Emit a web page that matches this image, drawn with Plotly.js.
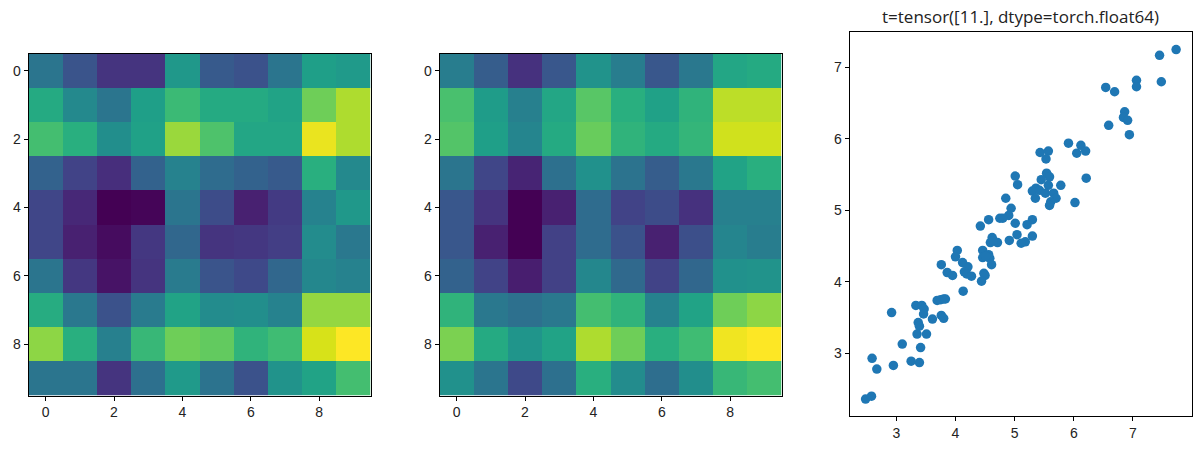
<!DOCTYPE html>
<html>
<head>
<meta charset="utf-8">
<script src="https://cdn.plot.ly/plotly-3.0.1.min.js"></script>
<style>html,body{margin:0;padding:0;background:#fff}#chart{width:1200px;height:449px}</style>
</head>
<body>
<div id="chart"></div>
<script>
const cells = [0,1,2,3,4,5,6,7,8,9];
const leftValues = [
[0.39,0.26,0.15,0.15,0.53,0.28,0.25,0.39,0.56,0.54],
[0.61,0.47,0.39,0.56,0.68,0.61,0.61,0.58,0.78,0.88],
[0.70,0.63,0.49,0.57,0.85,0.72,0.59,0.59,0.97,0.88],
[0.31,0.20,0.13,0.31,0.44,0.35,0.31,0.28,0.63,0.47],
[0.21,0.11,0.00,0.01,0.39,0.23,0.09,0.17,0.44,0.53],
[0.21,0.09,0.03,0.16,0.33,0.15,0.16,0.18,0.48,0.40],
[0.39,0.16,0.05,0.15,0.41,0.26,0.22,0.33,0.46,0.44],
[0.62,0.40,0.25,0.41,0.58,0.48,0.49,0.44,0.84,0.84],
[0.83,0.63,0.43,0.67,0.78,0.76,0.65,0.69,0.94,1.00],
[0.39,0.39,0.15,0.37,0.54,0.38,0.25,0.51,0.58,0.70]];
const rightValues = [
[0.42,0.29,0.14,0.27,0.51,0.42,0.27,0.40,0.59,0.61],
[0.71,0.55,0.43,0.59,0.74,0.63,0.57,0.65,0.90,0.90],
[0.73,0.56,0.45,0.61,0.77,0.65,0.61,0.66,0.93,0.93],
[0.39,0.21,0.10,0.37,0.50,0.38,0.29,0.40,0.58,0.63],
[0.27,0.15,0.00,0.09,0.35,0.20,0.23,0.14,0.43,0.43],
[0.27,0.09,0.00,0.19,0.35,0.25,0.09,0.24,0.45,0.42],
[0.31,0.20,0.08,0.19,0.46,0.34,0.20,0.33,0.50,0.51],
[0.65,0.40,0.37,0.40,0.70,0.65,0.44,0.58,0.78,0.83],
[0.80,0.61,0.52,0.58,0.88,0.78,0.63,0.69,0.98,1.00],
[0.50,0.39,0.22,0.37,0.63,0.48,0.36,0.49,0.67,0.70]];
const scatterX = [7.73,7.45,7.48,7.06,7.06,6.54,6.69,6.86,6.84,6.91,6.59,6.94,5.91,6.12,6.05,6.20,5.43,5.57,5.53,5.01,5.05,6.21,5.54,5.59,5.45,5.57,5.78,5.36,5.30,5.42,5.52,5.66,5.35,5.70,4.85,4.94,5.61,5.59,6.02,4.90,4.75,4.80,4.56,5.01,5.30,5.21,4.42,5.04,5.30,5.18,5.11,4.91,4.62,4.59,4.71,4.64,4.46,4.46,4.56,4.58,4.61,4.51,4.48,4.50,4.44,4.03,4.00,4.12,4.21,4.15,4.19,4.27,3.76,3.86,3.95,4.13,3.69,3.75,3.80,3.83,3.33,3.43,3.47,3.46,2.92,3.61,3.76,3.80,3.37,3.39,3.35,3.51,3.10,3.41,2.59,2.67,2.95,3.25,3.39,2.48,2.58];
const scatterY = [7.25,7.17,6.80,6.82,6.73,6.72,6.66,6.38,6.30,6.26,6.19,6.06,5.94,5.91,5.80,5.83,5.81,5.83,5.72,5.48,5.36,5.45,5.52,5.47,5.43,5.35,5.35,5.31,5.27,5.28,5.24,5.24,5.17,5.17,5.17,5.03,5.12,5.07,5.11,4.93,4.89,4.89,4.87,4.82,4.87,4.80,4.78,4.66,4.64,4.56,4.54,4.58,4.62,4.55,4.55,4.58,4.44,4.34,4.38,4.33,4.24,4.36,4.12,4.09,4.01,4.44,4.35,4.27,4.21,4.14,4.11,4.08,4.24,4.13,4.09,3.87,3.74,3.75,3.76,3.76,3.67,3.67,3.62,3.55,3.57,3.48,3.53,3.49,3.43,3.38,3.27,3.27,3.13,3.08,2.93,2.78,2.83,2.89,2.87,2.36,2.40];
const heatTicks = [0,2,4,6,8];
const scatterXTicks = [3,4,5,6,7];
const scatterYTicks = [3,4,5,6,7];
const titleText = 't=tensor([11.], dtype=torch.float64)';

const W = 1200, H = 449;
const TICK_FONT = '"Liberation Sans",sans-serif';
const TITLE_FONT = '"Open Sans",sans-serif';
const axisBase = {
  showgrid:false, zeroline:false, showline:true, mirror:true, linecolor:'#000', linewidth:1,
  ticks:'outside', ticklen:4, tickwidth:1, tickcolor:'#000', tickmode:'array',
  tickfont:{family:TICK_FONT,size:14,color:'#222'}
};
function dx(a,b){return [a/W,b/W];}
function dy(top,bot){return [1-bot/H,1-top/H];}
const heat = (z,xa,ya)=>({type:'heatmap',z:z,x:cells,y:cells,xaxis:xa,yaxis:ya,colorscale:'Viridis',zmin:0,zmax:1,showscale:false,zsmooth:false,hoverinfo:'skip'});
const data = [
  heat(leftValues,'x','y'),
  heat(rightValues,'x2','y2'),
  {type:'scatter',mode:'markers',x:scatterX,y:scatterY,xaxis:'x3',yaxis:'y3',marker:{color:'#1f77b4',size:9.5,line:{width:0}},hoverinfo:'skip'}
];
const heatX = r=>Object.assign({},axisBase,{range:[-0.5,9.5],tickvals:heatTicks,ticktext:heatTicks.map(String)},r);
const layout = {
  width:W,height:H,margin:{l:0,r:0,t:0,b:0},paper_bgcolor:'#fff',plot_bgcolor:'#fff',showlegend:false,
  xaxis:heatX({domain:dx(28.5,370.5),anchor:'y'}),
  yaxis:heatX({domain:dy(53.5,395.5),anchor:'x',range:[9.5,-0.5]}),
  xaxis2:heatX({domain:dx(439.5,781.5),anchor:'y2'}),
  yaxis2:heatX({domain:dy(53.5,395.5),anchor:'x2',range:[9.5,-0.5]}),
  xaxis3:Object.assign({},axisBase,{domain:dx(849.5,1191.5),anchor:'y3',range:[2.208,7.99],tickvals:scatterXTicks,ticktext:scatterXTicks.map(String)}),
  yaxis3:Object.assign({},axisBase,{domain:dy(31.5,416),anchor:'x3',range:[2.123,7.503],tickvals:scatterYTicks,ticktext:scatterYTicks.map(String)}),
  annotations:[{xref:'paper',yref:'paper',x:(849.5+1191.5)/2/W,y:1-17/H,xanchor:'center',yanchor:'middle',showarrow:false,text:titleText,font:{family:TITLE_FONT,size:17,color:'#222'}}]
};
Plotly.newPlot('chart',data,layout,{displayModeBar:false,staticPlot:true});
</script>
</body>
</html>
